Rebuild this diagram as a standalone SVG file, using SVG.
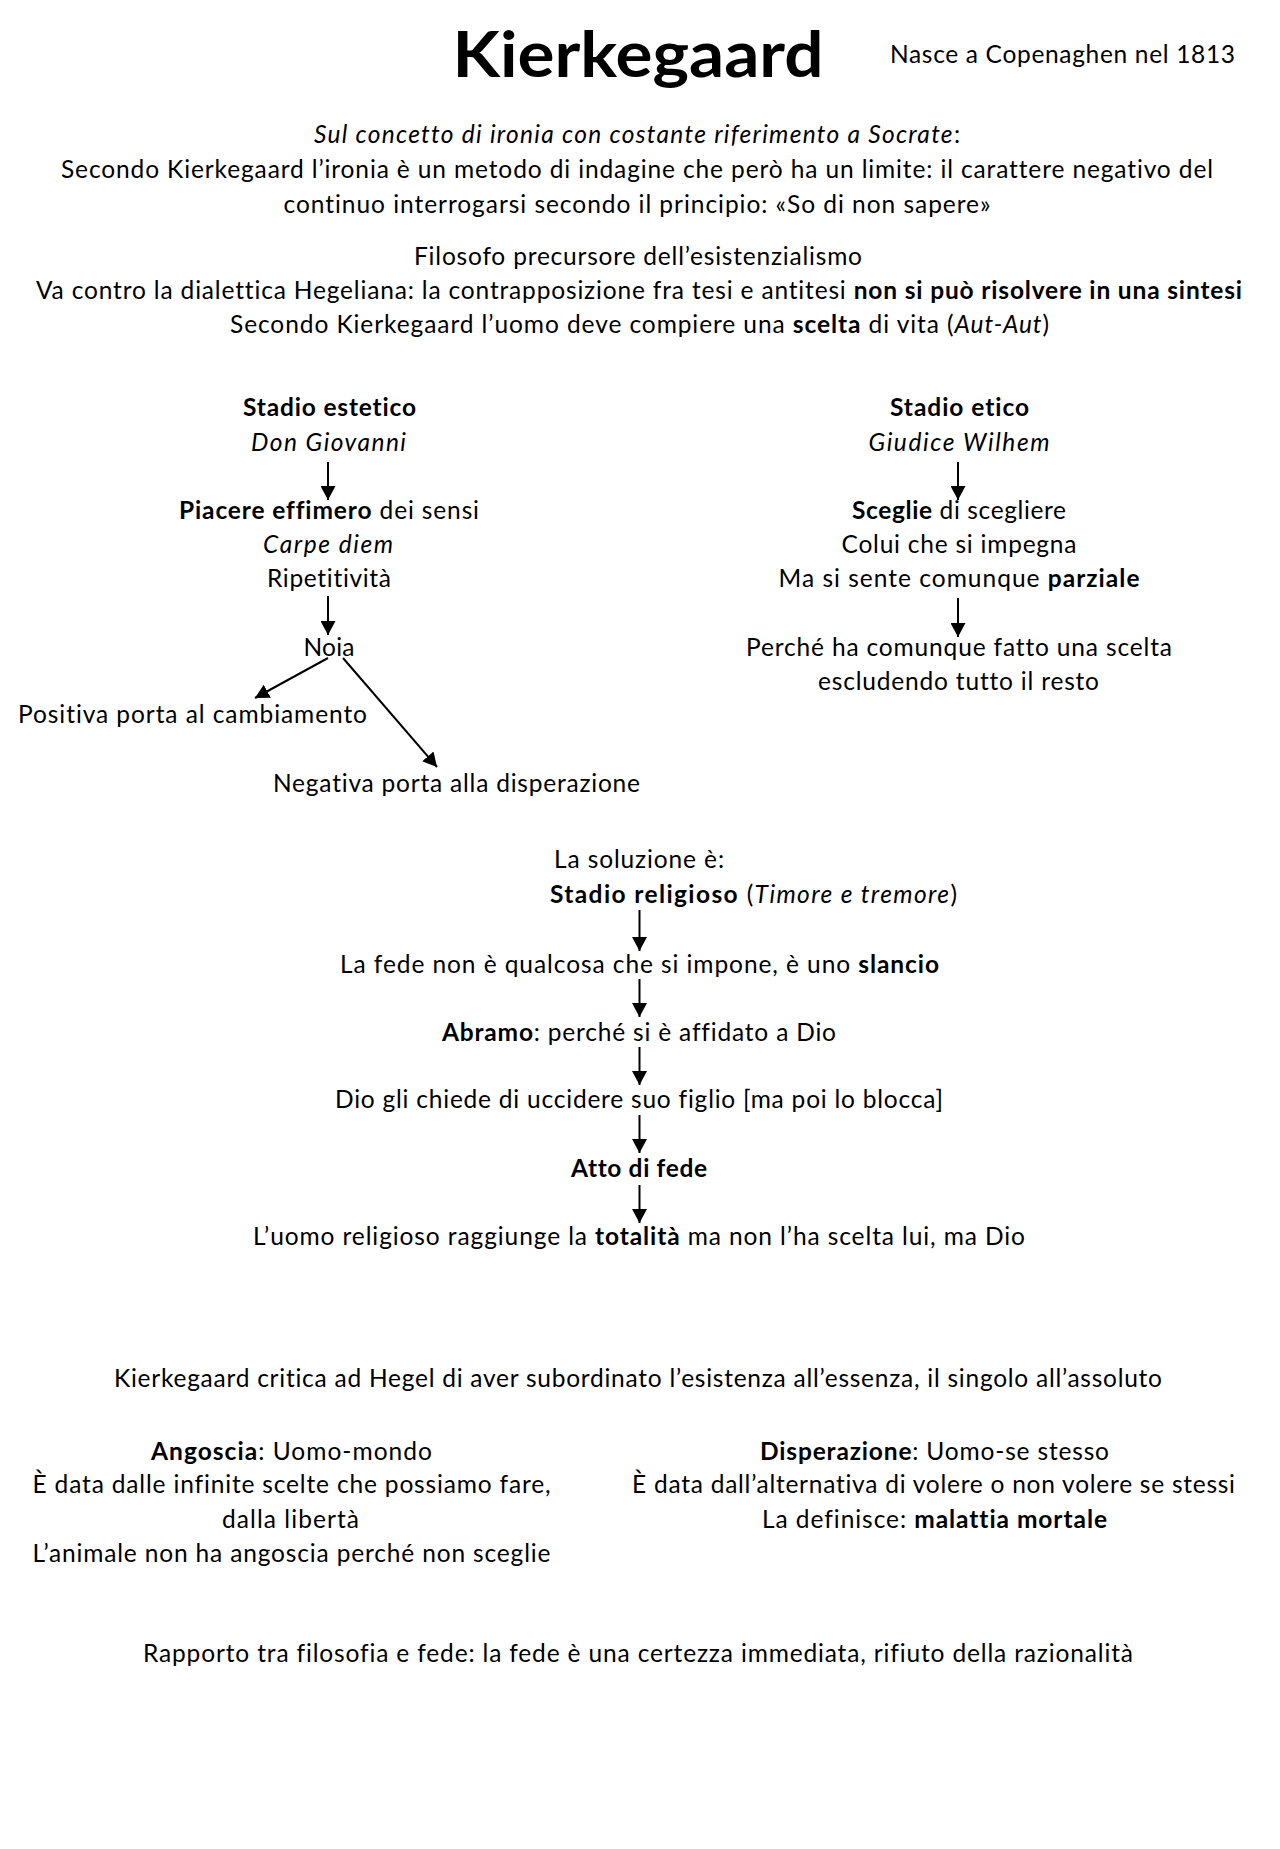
<svg xmlns="http://www.w3.org/2000/svg" width="1280" height="1849" viewBox="0 0 1280 1849">
<style>
  text { font-family: "Lato", "Liberation Sans", sans-serif; font-size: 24.5px; fill: #000; font-variant-ligatures: none; }
  .c { text-anchor: middle; }
  .b { font-weight: 700; }
  .i { font-style: italic; }
  .title { font-size: 64px; font-weight: 700; }
  .conn line { stroke: #000; stroke-width: 2; marker-end: url(#ah); }
</style>
<defs>
  <marker id="ah" markerUnits="userSpaceOnUse" markerWidth="15" markerHeight="15" refX="14" refY="7.5" orient="auto">
    <path d="M0,0 L14,7.5 L0,15 z" fill="#000"/>
  </marker>
</defs>
<rect width="1280" height="1849" fill="#fff"/>

<g id="header">
  <text class="title c" x="638" y="77" textLength="371" lengthAdjust="spacingAndGlyphs">Kierkegaard</text>
  <text x="890" y="63" textLength="345" lengthAdjust="spacing">Nasce a Copenaghen nel 1813</text>
</g>

<g id="intro">
  <text class="c" x="637" y="143" textLength="646" lengthAdjust="spacing"><tspan class="i">Sul concetto di ironia con costante riferimento a Socrate</tspan>:</text>
  <text class="c" x="637" y="178" textLength="1152" lengthAdjust="spacing">Secondo Kierkegaard l’ironia è un metodo di indagine che però ha un limite: il carattere negativo del</text>
  <text class="c" x="637" y="213" textLength="707" lengthAdjust="spacing">continuo interrogarsi secondo il principio: «So di non sapere»</text>
  <text class="c" x="638" y="265" textLength="448" lengthAdjust="spacing">Filosofo precursore dell’esistenzialismo</text>
  <text class="c" x="639" y="299" textLength="1206" lengthAdjust="spacing">Va contro la dialettica Hegeliana: la contrapposizione fra tesi e antitesi <tspan class="b">non si può risolvere in una sintesi</tspan></text>
  <text class="c" x="639.5" y="333" textLength="819" lengthAdjust="spacing">Secondo Kierkegaard l’uomo deve compiere una <tspan class="b">scelta</tspan> di vita (<tspan class="i">Aut-Aut</tspan>)</text>
</g>

<g id="estetico">
  <text class="c b" x="329.5" y="416" textLength="173" lengthAdjust="spacing">Stadio estetico</text>
  <text class="c i" x="328.5" y="451" textLength="155" lengthAdjust="spacing">Don Giovanni</text>
</g>
<g id="piacere">
  <text class="c" x="329" y="519" textLength="300" lengthAdjust="spacing"><tspan class="b">Piacere effimero</tspan> dei sensi</text>
  <text class="c i" x="328" y="553" textLength="130" lengthAdjust="spacing">Carpe diem</text>
  <text class="c" x="329" y="587" textLength="124" lengthAdjust="spacing">Ripetitività</text>
</g>
<g id="noia">
  <text class="c" x="329" y="656" textLength="51" lengthAdjust="spacing">Noia</text>
</g>
<g id="positiva">
  <text x="18" y="723" textLength="349" lengthAdjust="spacing">Positiva porta al cambiamento</text>
</g>
<g id="negativa">
  <text x="273" y="792" textLength="367" lengthAdjust="spacing">Negativa porta alla disperazione</text>
</g>

<g id="etico">
  <text class="c b" x="959.5" y="416" textLength="139" lengthAdjust="spacing">Stadio etico</text>
  <text class="c i" x="959" y="451" textLength="181" lengthAdjust="spacing">Giudice Wilhem</text>
</g>
<g id="sceglie">
  <text class="c" x="959" y="519" textLength="214" lengthAdjust="spacing"><tspan class="b">Sceglie</tspan> di scegliere</text>
  <text class="c" x="959" y="553" textLength="235" lengthAdjust="spacing">Colui che si impegna</text>
  <text class="c" x="959" y="587" textLength="361" lengthAdjust="spacing">Ma si sente comunque <tspan class="b">parziale</tspan></text>
</g>
<g id="perche">
  <text class="c" x="959" y="656" textLength="426" lengthAdjust="spacing">Perché ha comunque fatto una scelta</text>
  <text class="c" x="958.5" y="690" textLength="281" lengthAdjust="spacing">escludendo tutto il resto</text>
</g>

<g id="religioso">
  <text x="554" y="868" textLength="170" lengthAdjust="spacing">La soluzione è:</text>
  <text x="550" y="903" textLength="407" lengthAdjust="spacing"><tspan class="b">Stadio religioso</tspan> (<tspan class="i">Timore e tremore</tspan>)</text>
</g>
<g id="fede">
  <text class="c" x="639.5" y="973" textLength="599" lengthAdjust="spacing">La fede non è qualcosa che si impone, è uno <tspan class="b">slancio</tspan></text>
</g>
<g id="abramo">
  <text class="c" x="639" y="1041" textLength="394" lengthAdjust="spacing"><tspan class="b">Abramo</tspan>: perché si è affidato a Dio</text>
</g>
<g id="dio">
  <text class="c" x="639" y="1108" textLength="608" lengthAdjust="spacing">Dio gli chiede di uccidere suo figlio [ma poi lo blocca]</text>
</g>
<g id="atto">
  <text class="c b" x="639" y="1177" textLength="136" lengthAdjust="spacing">Atto di fede</text>
</g>
<g id="totalita">
  <text class="c" x="639" y="1245" textLength="772" lengthAdjust="spacing">L’uomo religioso raggiunge la <tspan class="b">totalità</tspan> ma non l’ha scelta lui, ma Dio</text>
</g>

<g id="critica">
  <text class="c" x="638" y="1387" textLength="1048" lengthAdjust="spacing">Kierkegaard critica ad Hegel di aver subordinato l’esistenza all’essenza, il singolo all’assoluto</text>
</g>
<g id="angoscia">
  <text class="c" x="291.5" y="1460" textLength="281" lengthAdjust="spacing"><tspan class="b">Angoscia</tspan>: Uomo-mondo</text>
  <text class="c" x="291.5" y="1493" textLength="518" lengthAdjust="spacing">È data dalle infinite scelte che possiamo fare,</text>
  <text class="c" x="290.5" y="1528" textLength="137" lengthAdjust="spacing">dalla libertà</text>
  <text class="c" x="291.5" y="1562" textLength="518" lengthAdjust="spacing">L’animale non ha angoscia perché non sceglie</text>
</g>
<g id="disperazione">
  <text class="c" x="934.5" y="1460" textLength="349" lengthAdjust="spacing"><tspan class="b">Disperazione</tspan>: Uomo-se stesso</text>
  <text class="c" x="933.5" y="1493" textLength="603" lengthAdjust="spacing">È data dall’alternativa di volere o non volere se stessi</text>
  <text class="c" x="934.5" y="1528" textLength="345" lengthAdjust="spacing">La definisce: <tspan class="b">malattia mortale</tspan></text>
</g>
<g id="rapporto">
  <text class="c" x="638" y="1662" textLength="990" lengthAdjust="spacing">Rapporto tra filosofia e fede: la fede è una certezza immediata, rifiuto della razionalità</text>
</g>

<g id="connectors" class="conn">
  <line x1="328" y1="462" x2="328" y2="500"/>
  <line x1="328" y1="596" x2="328" y2="635"/>
  <line x1="328" y1="658" x2="255" y2="698"/>
  <line x1="343" y1="658" x2="437" y2="767"/>
  <line x1="958" y1="462" x2="958" y2="500"/>
  <line x1="958" y1="598" x2="958" y2="637"/>
  <line x1="639.5" y1="910" x2="639.5" y2="951"/>
  <line x1="639.5" y1="979" x2="639.5" y2="1017"/>
  <line x1="639.5" y1="1047" x2="639.5" y2="1085"/>
  <line x1="639.5" y1="1115" x2="639.5" y2="1153"/>
  <line x1="639.5" y1="1185" x2="639.5" y2="1223"/>
</g>
</svg>
